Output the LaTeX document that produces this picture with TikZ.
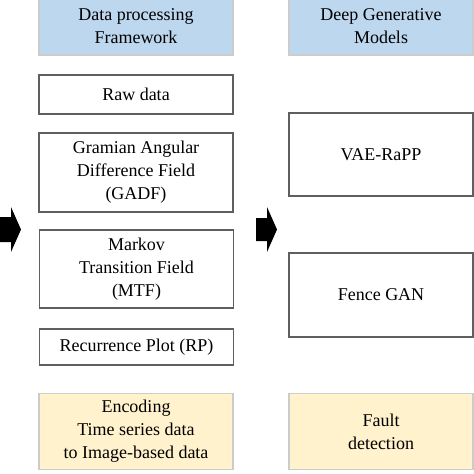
\documentclass[tikz,border=0pt]{standalone}
\usepackage{fontspec}
\setmainfont{Liberation Serif}
\definecolor{headblue}{RGB}{189,215,238}
\definecolor{footbeige}{RGB}{255,242,204}
\definecolor{boxgray}{RGB}{95,95,95}
\begin{document}
\begin{tikzpicture}
      [%%%%%%%%%%%%%%%%%%%%%%%%%%%%%%
      x=1pt,y=-1pt,
      box/.style={rectangle,draw=boxgray,line width=1.2pt,inner sep=0pt,align=center,
        font=\fontsize{18}{23}\selectfont},
      leftbox/.style={box,minimum width=194pt},
      rightbox/.style={box,minimum width=184pt},
      headbox/.style={box,draw=black!20,fill=headblue},
      footbox/.style={box,draw=black!20,fill=footbeige},
      ]%%%%%%%%%%%%%%%%%%%%%%%%%%%%%%
      \useasboundingbox (0,0) rectangle (474,474);

      % left column
      \node[leftbox,headbox,minimum height=58pt] (headL) at (136,26) {Data processing\\Framework};
      \node[leftbox,minimum height=39pt] (raw) at (136,94.5) {Raw data};
      \node[leftbox,minimum height=79pt] (gadf) at (136,172.5) {Gramian Angular\\Difference Field\\(GADF)};
      \node[leftbox,minimum height=78pt] (mtf) at (136.5,269) {Markov\\Transition Field\\(MTF)};
      \node[leftbox,minimum height=36pt] (rp) at (136.5,347) {Recurrence Plot (RP)};
      \node[leftbox,footbox,minimum height=76pt] (enc) at (136,431.5) {Encoding\\Time series data\\to Image-based data};

      % right column
      \node[rightbox,headbox,minimum height=58pt] (headR) at (381,26) {Deep Generative\\Models};
      \node[rightbox,minimum height=83pt] (vae) at (381,154.5) {VAE-RaPP};
      \node[rightbox,minimum height=84pt] (gan) at (381,295) {Fence GAN};
      \node[rightbox,footbox,minimum height=76pt] (fault) at (381,431.5) {Fault\\detection};

      % block arrows
      \fill (-2,217) -- (11,217) -- (11,207) -- (21,229.5) -- (11,252) -- (11,242) -- (-2,242) -- cycle;
      \fill (256,218) -- (267,218) -- (267,207) -- (277,229.5) -- (267,252) -- (267,241) -- (256,241) -- cycle;
    \end{tikzpicture}
\end{document}
